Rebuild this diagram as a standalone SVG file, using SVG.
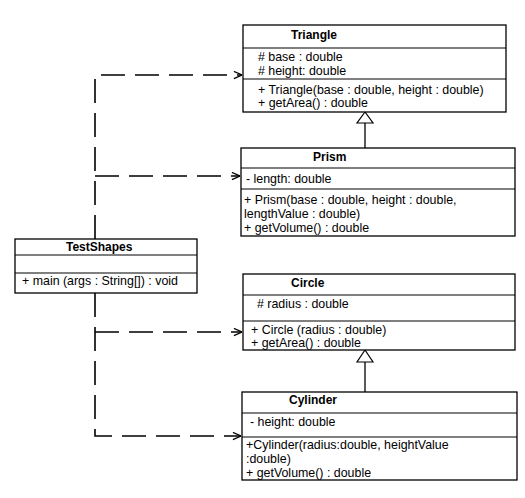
<svg xmlns="http://www.w3.org/2000/svg" width="525" height="498" viewBox="0 0 525 498">
<defs>
<style>
.box{fill:#fff;stroke:#000;stroke-width:1.3}
.sep{stroke:#000;stroke-width:1.2}
.t{font-family:"Liberation Sans",Arial,sans-serif;font-size:12.4px;fill:#000}
.b{font-family:"Liberation Sans",Arial,sans-serif;font-size:12px;font-weight:bold;fill:#000}
.dash{fill:none;stroke:#000;stroke-width:1.6;stroke-dasharray:24 10}
.solid{fill:none;stroke:#000;stroke-width:1.3}
.gen{fill:#fff;stroke:#000;stroke-width:1.2}
</style>
<marker id="open" viewBox="0 0 10 10" refX="10" refY="5" markerWidth="9" markerHeight="9" markerUnits="userSpaceOnUse" orient="auto">
<path d="M1,1 L10,5 L1,9" fill="none" stroke="#000" stroke-width="1.4"/>
</marker>
</defs>

<g id="connectors">
<path class="dash" d="M95,239 V75 H242" marker-end="url(#open)"/>
<path class="dash" d="M95,176 H240" marker-end="url(#open)"/>
<path class="dash" d="M95,293 V436 H241" marker-end="url(#open)"/>
<path class="dash" d="M95,332 H242" marker-end="url(#open)"/>
<line class="solid" x1="365" y1="123" x2="365" y2="148"/>
<polygon class="gen" points="365,112 357,123 373,123"/>
<line class="solid" x1="365" y1="362" x2="365" y2="392"/>
<polygon class="gen" points="365,350 357,362 373,362"/>
</g>

<g id="Triangle">
<rect class="box" x="243" y="25" width="263" height="87"/>
<line class="sep" x1="243" y1="48" x2="506" y2="48"/>
<line class="sep" x1="243" y1="79" x2="506" y2="79"/>
<text class="b" x="291" y="39">Triangle</text>
<text class="t" x="258" y="61"># base : double</text>
<text class="t" x="258" y="75"># height: double</text>
<text class="t" x="258" y="94">+ Triangle(base : double, height : double)</text>
<text class="t" x="258" y="107">+ getArea() : double</text>
</g>

<g id="Prism">
<rect class="box" x="241" y="148" width="274" height="88"/>
<line class="sep" x1="241" y1="168" x2="515" y2="168"/>
<line class="sep" x1="241" y1="189" x2="515" y2="189"/>
<text class="b" x="313" y="161">Prism</text>
<text class="t" x="246" y="183">- length: double</text>
<text class="t" x="244" y="204">+ Prism(base : double, height : double,</text>
<text class="t" x="244" y="218">lengthValue : double)</text>
<text class="t" x="244" y="232">+ getVolume() : double</text>
</g>

<g id="TestShapes">
<rect class="box" x="15" y="239" width="182" height="54"/>
<line class="sep" x1="15" y1="255" x2="197" y2="255"/>
<line class="sep" x1="15" y1="273" x2="197" y2="273"/>
<text class="b" x="66" y="251">TestShapes</text>
<text class="t" x="22" y="285">+ main (args : String[]) : void</text>
</g>

<g id="Circle">
<rect class="box" x="243" y="274" width="272" height="76"/>
<line class="sep" x1="243" y1="295" x2="515" y2="295"/>
<line class="sep" x1="243" y1="321" x2="515" y2="321"/>
<text class="b" x="291" y="287">Circle</text>
<text class="t" x="257" y="308"># radius : double</text>
<text class="t" x="251" y="334">+ Circle (radius : double)</text>
<text class="t" x="251" y="347">+ getArea() : double</text>
</g>

<g id="Cylinder">
<rect class="box" x="242" y="392" width="275" height="88"/>
<line class="sep" x1="242" y1="413" x2="517" y2="413"/>
<line class="sep" x1="242" y1="437" x2="517" y2="437"/>
<text class="b" x="289" y="404">Cylinder</text>
<text class="t" x="250" y="426">- height: double</text>
<text class="t" x="246" y="449">+Cylinder(radius:double, heightValue</text>
<text class="t" x="246" y="463">:double)</text>
<text class="t" x="246" y="477">+ getVolume() : double</text>
</g>
</svg>
